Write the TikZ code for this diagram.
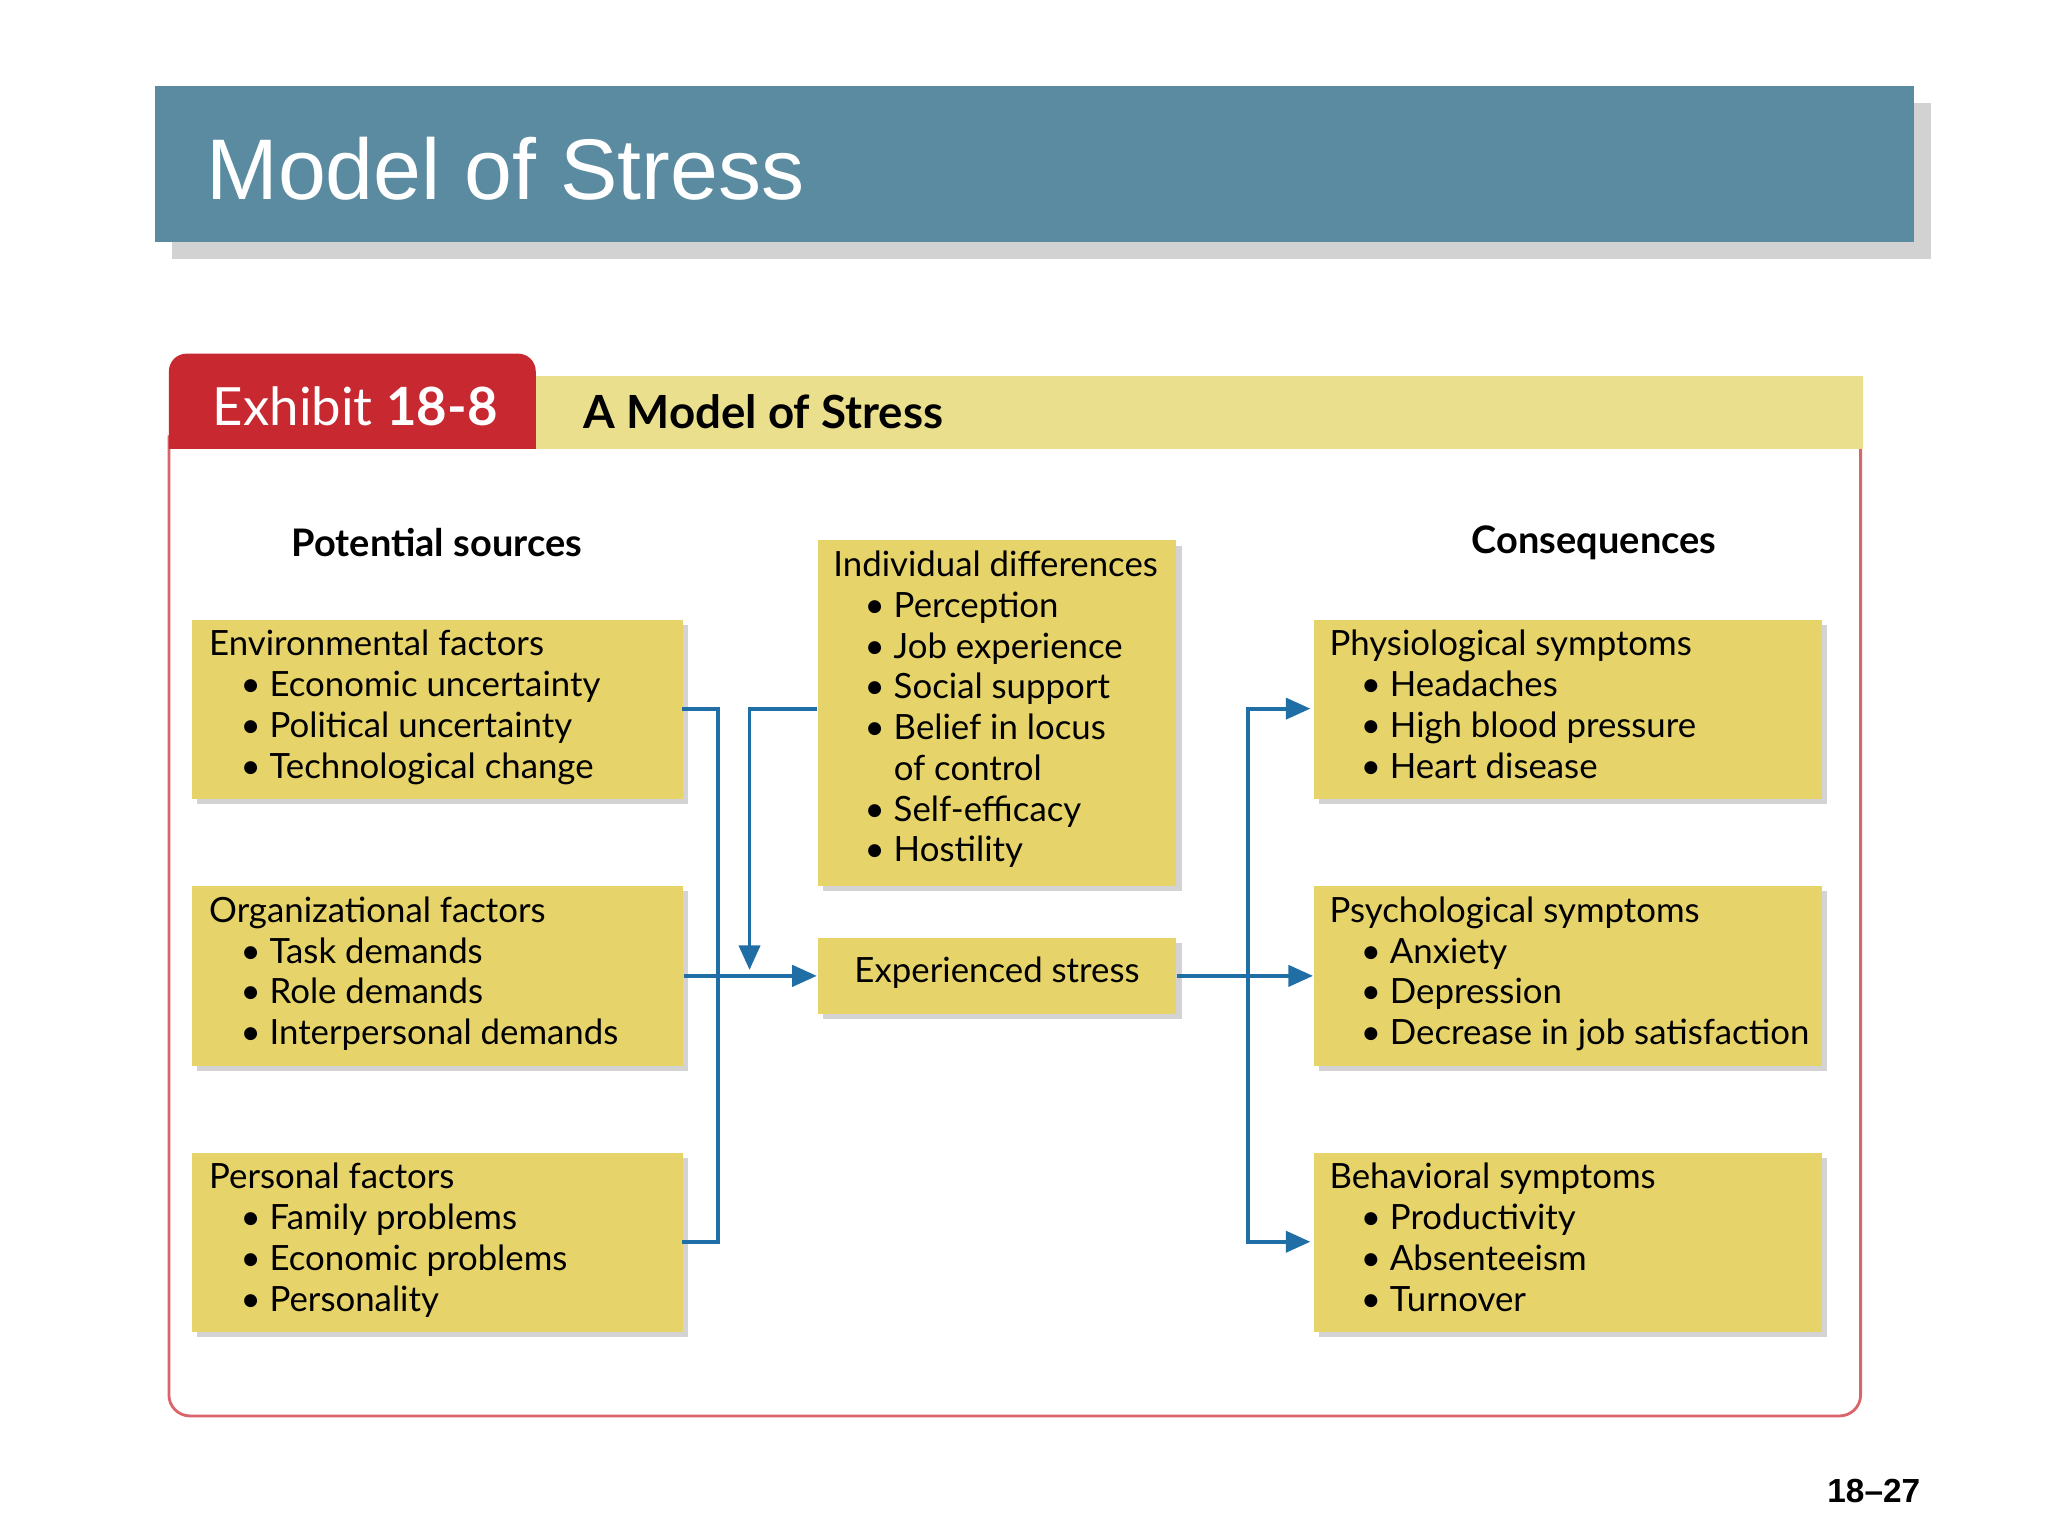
\documentclass[tikz,border=0pt]{standalone}
\usepackage{fontspec}
\setmainfont{Lato}
\newfontfamily\arialf{Liberation Sans}
\usetikzlibrary{shadows,arrows.meta}
\definecolor{hdrblue}{HTML}{5A8BA0}
\definecolor{tabred}{HTML}{C8282F}
\definecolor{band}{HTML}{EADF8C}
\definecolor{boxy}{HTML}{E6D36A}
\definecolor{arr}{HTML}{1F6FA6}
\definecolor{frame}{HTML}{D9646A}
\tikzset{
 ybox/.style={fill=boxy,draw=none,anchor=north west,inner sep=0pt,drop shadow={shadow xshift=1.5pt,shadow yshift=-1.5pt,opacity=0.35}},
 btxt/.style={anchor=north west,align=left,inner sep=0pt,font=\fontsize{9.9}{11.6}\selectfont},
 conn/.style={draw=arr,line width=1.1pt},
 tip/.style={-{Triangle[length=7pt,width=6pt]}}
}
\newcommand{\bl}{\hspace*{0.9em}\textbullet\ }
\begin{document}
\begin{tikzpicture}[x=0.013196cm,y=-0.013196cm]
\useasboundingbox (0,0) rectangle (1552,1164);
% header
\fill[gray!35] (130,78) rectangle (1463,196);
\node[fill=hdrblue,anchor=north west,minimum width=1333*0.013196cm,minimum height=118*0.013196cm,inner sep=0pt] (hdr) at (117,65) {};
\node[anchor=west,text=white,font=\arialf\fontsize{24.5}{30}\selectfont] (title) at (147,128) {Model of Stress};
% exhibit frame
\draw[frame,line width=0.8pt,rounded corners=6pt] (128,330) -- (128,1073) -- (1410,1073) -- (1410,330);
\fill[band] (400,285) rectangle (1412,340);
\fill[tabred,rounded corners=5pt] (128,340) -- (128,268) -- (406,268) -- (406,340) [sharp corners] -- cycle;
\fill[tabred] (128,320) rectangle (406,340);
\node[anchor=west,text=white,font=\fontsize{15}{18}\selectfont] (ex) at (152,308) {Exhibit \textbf{18-8}};
\node[anchor=west,font=\bfseries\fontsize{13}{16}\selectfont] (exttl) at (433,312) {A Model of Stress};
% headings
\node[font=\bfseries\fontsize{10.8}{13}\selectfont] (hps) at (331,411) {Potential sources};
\node[font=\bfseries\fontsize{10.8}{13}\selectfont] (hcq) at (1208,411) {Consequences};
% boxes
\newcommand{\bx}[5]{\node[ybox,minimum width=#3*0.013196cm,minimum height=#4*0.013196cm] (#5) at (#1,#2) {};}
\bx{145}{469}{372}{136}{env}
\bx{145}{671}{372}{136}{org}
\bx{145}{873}{372}{136}{per}
\bx{619}{409}{272}{262}{ind}
\bx{619}{710}{272}{58}{exp}
\bx{995}{469}{385}{136}{phy}
\bx{995}{671}{385}{136}{psy}
\bx{995}{873}{385}{136}{beh}
\node[btxt] (tenv) at (158,477) {Environmental factors\\\bl Economic uncertainty\\\bl Political uncertainty\\\bl Technological change};
\node[btxt] (torg) at (158,679) {Organizational factors\\\bl Task demands\\\bl Role demands\\\bl Interpersonal demands};
\node[btxt] (tper) at (158,881) {Personal factors\\\bl Family problems\\\bl Economic problems\\\bl Personality};
\node[btxt] (tind) at (631,417) {Individual differences\\\bl Perception\\\bl Job experience\\\bl Social support\\\bl Belief in locus\\\hspace*{0.9em}\phantom{\textbullet\ }of control\\\bl Self-efficacy\\\bl Hostility};
\node[btxt,anchor=west] (texp) at (647,737) {Experienced stress};
\node[btxt] (tphy) at (1007,477) {Physiological symptoms\\\bl Headaches\\\bl High blood pressure\\\bl Heart disease};
\node[btxt] (tpsy) at (1007,679) {Psychological symptoms\\\bl Anxiety\\\bl Depression\\\bl Decrease in job satisfaction};
\node[btxt] (tbeh) at (1007,881) {Behavioral symptoms\\\bl Productivity\\\bl Absenteeism\\\bl Turnover};
% connectors
\coordinate (ld) at (568,735);
\draw[conn] (517,537) -- (544,537) -- (544,941) -- (517,941);
\draw[conn,tip] (org.east) -- (exp.west);
\draw[conn,tip] (619,537) -- (568,537) -- (ld);
\draw[conn,tip] (exp.east) -- (psy.west);
\draw[conn,tip] (946,740) -- (946,537) -- (993,537);
\draw[conn,tip] (946,740) -- (946,941) -- (993,941);
\node[font=\arialf\bfseries\fontsize{9.5}{12}\selectfont] (pg) at (1420,1130) {18–27};
\end{tikzpicture}
\end{document}
